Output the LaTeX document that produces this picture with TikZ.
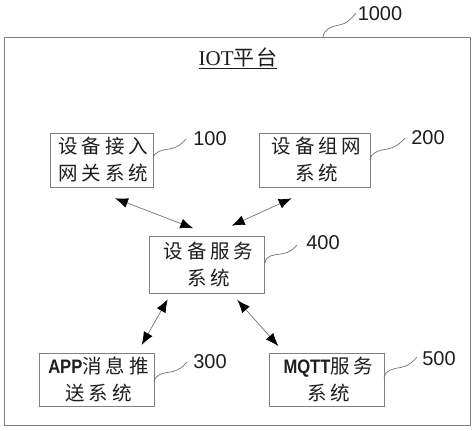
\documentclass[tikz,border=0pt]{standalone}
\usepackage{fontspec}
\setmainfont{Liberation Serif}
\newfontfamily\cjk[LetterSpace=20]{Noto Sans CJK SC}
\newfontfamily\cjktitle[LetterSpace=8]{Noto Sans CJK SC}
\newfontfamily\numfont{Liberation Sans}
\newfontfamily\latb[FakeStretch=0.85]{Liberation Sans Bold}
\usetikzlibrary{arrows.meta,calc}
\definecolor{boxgray}{RGB}{128,128,128}
\definecolor{linegray}{RGB}{115,115,115}
\definecolor{ink}{RGB}{30,30,30}
\begin{document}
\begin{tikzpicture}[x=1pt,y=1pt,
  box/.style={draw=boxgray,line width=0.9pt,inner sep=0pt,align=center,text=ink,
    font=\fontsize{19.5}{27}\selectfont\cjk},
  lbl/.style={font=\fontsize{20}{24}\selectfont\numfont,text=ink,inner sep=0pt},
  leader/.style={draw=linegray,line width=0.7pt},
  biarrow/.style={draw=linegray,line width=0.7pt,
    {Latex[length=13pt,width=10pt,color=black]}-{Latex[length=13pt,width=10pt,color=black]}}]
\useasboundingbox (0,0) rectangle (474,431);
\fill[white] (0,0) rectangle (474,431);
% outer platform box
\node[draw=boxgray,line width=0.9pt,minimum width=466pt,minimum height=388pt,inner sep=0pt] (outer) at (237,200) {};
\node[font=\fontsize{21}{24}\selectfont,text=ink,inner sep=0pt] (title) at (238,373) {\underline{IOT{\cjktitle 平台}}};
% boxes
\node[box,minimum width=103pt,minimum height=54pt] (b100) at (101.5,271) {\hspace*{3.9pt}设备接入\\\hspace*{3.9pt}网关系统};
\node[box,minimum width=111pt,minimum height=54pt] (b200) at (314.5,271) {\hspace*{3.9pt}设备组网\\\hspace*{3.9pt}系统};
\node[box,minimum width=115pt,minimum height=57pt] (b400) at (206.5,166.5) {\hspace*{3.9pt}设备服务\\\hspace*{3.9pt}系统};
\node[box,minimum width=115pt,minimum height=53pt] (b300) at (96.5,51.5) {\hspace*{3.9pt}{\latb APP}消息推\\\hspace*{3.9pt}送系统};
\node[box,minimum width=115pt,minimum height=53pt] (b500) at (326.5,51.5) {\hspace*{3.9pt}{\latb MQTT}服务\\\hspace*{3.9pt}系统};
% labels
\node[lbl] (l1000) at (380,417) {1000};
\node[lbl] (l100) at (210,292) {100};
\node[lbl] (l200) at (428,293) {200};
\node[lbl] (l400) at (323,188) {400};
\node[lbl] (l300) at (210,69) {300};
\node[lbl] (l500) at (439,72) {500};
% leader coordinates
\coordinate (s1000) at (323,394); \coordinate (e1000) at (356,418);
\coordinate (s100) at (153,272);  \coordinate (e100) at (186,292);
\coordinate (s200) at (370,271);  \coordinate (e200) at (405,293);
\coordinate (s400) at (265,168);  \coordinate (e400) at (297,186);
\coordinate (s300) at (154,49);   \coordinate (e300) at (187,69);
\coordinate (s500) at (384,53);   \coordinate (e500) at (417,74);
\foreach \n in {1000,100,200,400,300,500}{
  \draw[leader] (s\n) .. controls +(1,8) and +(-7,-1) .. ($(s\n)!0.5!(e\n)$)
    .. controls +(7,1) and +(-4,-5) .. (e\n);
}
% arrows
\coordinate (a1s) at (115,232.7); \coordinate (a1e) at (193.3,202.7);
\coordinate (a2s) at (291.7,232.7); \coordinate (a2e) at (231.7,205.3);
\coordinate (a3s) at (167.7,131.7); \coordinate (a3e) at (141.7,86);
\coordinate (a4s) at (237.3,131); \coordinate (a4e) at (278.3,85);
\draw[biarrow] (a1s) -- (a1e);
\draw[biarrow] (a2s) -- (a2e);
\draw[biarrow] (a3s) -- (a3e);
\draw[biarrow] (a4s) -- (a4e);
\end{tikzpicture}
\end{document}
